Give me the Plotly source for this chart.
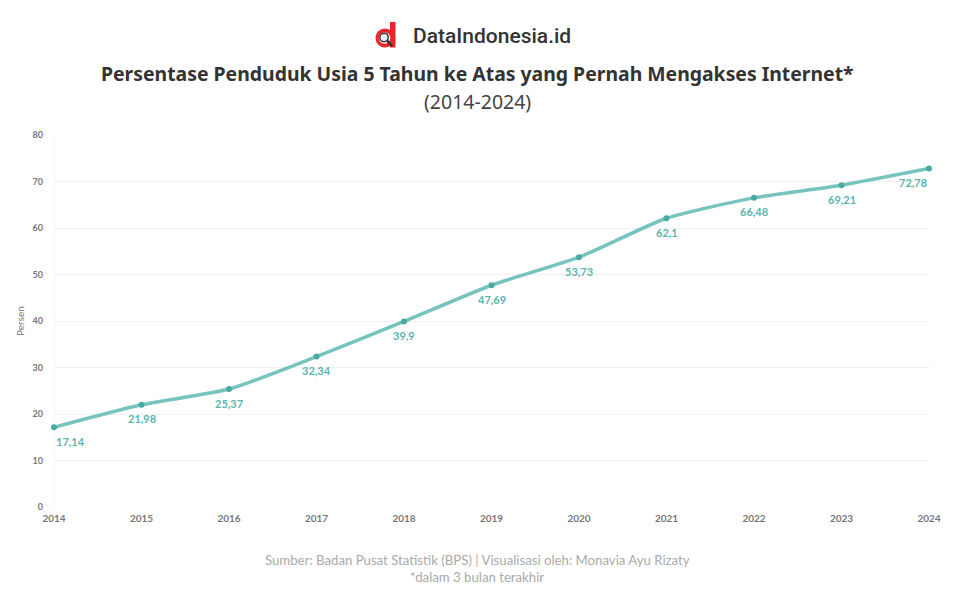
import plotly.graph_objects as go

years = [2014, 2015, 2016, 2017, 2018, 2019, 2020, 2021, 2022, 2023, 2024]
persen = [17.14, 21.98, 25.37, 32.34, 39.9, 47.69, 53.73, 62.1, 66.48, 69.21, 72.78]
y_ticks = [0, 10, 20, 30, 40, 50, 60, 70, 80]

labels = [f"{v:g}".replace(".", ",") for v in persen]
anchors = ["left"] + ["center"] * (len(years) - 2) + ["right"]

LINE = "#76c4bd"
MARK = "#4aa9a1"
FONT = "Lato, Noto Sans, sans-serif"
TFONT = "Noto Sans, Open Sans, sans-serif"

W, H = 954, 596
ML, MR, MT, MB = 54, 25, 135, 89
PW, PH = W - ML - MR, H - MT - MB


def px(x):
    return (x - ML) / PW


def py(y):
    return (H - MB - y) / PH


CX = px(W / 2)

fig = go.Figure()
fig.add_trace(go.Scatter(
    x=years, y=persen, mode="lines+markers",
    line=dict(color=LINE, width=3.5, shape="spline", smoothing=0.6),
    marker=dict(color=MARK, size=6),
    cliponaxis=False, hoverinfo="skip", showlegend=False,
))

label_ann = [
    dict(x=x, y=v, xref="x", yref="y", text=t, showarrow=False,
         xanchor=a, yanchor="middle", yshift=-14,
         font=dict(color="#5bb5ad", size=11, family=FONT, weight="bold"))
    for x, v, t, a in zip(years, persen, labels, anchors)
]


def circ(cx, cy, r, **kw):
    return dict(type="circle", xref="paper", yref="paper",
                x0=px(cx - r), x1=px(cx + r), y0=py(cy + r), y1=py(cy - r), **kw)


icon = [
    circ(385, 38, 9.5, fillcolor="#e8262c", line=dict(width=0)),
    dict(type="rect", xref="paper", yref="paper", x0=px(390), x1=px(395.5),
         y0=py(47.5), y1=py(22), fillcolor="#e8262c", line=dict(width=0)),
    circ(384.5, 38, 5.8, fillcolor="white", line=dict(width=0)),
    circ(384, 37.5, 4.2, fillcolor="#e8f0f6", line=dict(color="#333", width=1.5)),
    dict(type="line", xref="paper", yref="paper", x0=px(387), x1=px(392),
         y0=py(40.5), y1=py(46), line=dict(color="#333", width=2.5)),
]

fig.update_layout(
    width=W, height=H,
    paper_bgcolor="white", plot_bgcolor="white",
    margin=dict(l=ML, r=MR, t=MT, b=MB, autoexpand=False),
    font=dict(family=FONT, color="#666"),
    xaxis=dict(
        range=[2014, 2024], tickvals=years, ticktext=[str(y) for y in years],
        showgrid=False, zeroline=False, showline=False,
        tickfont=dict(size=10, color="#777", weight="bold"), ticks="", ticklabelstandoff=4,
    ),
    yaxis=dict(
        range=[0, 80], tickvals=y_ticks, ticktext=[str(t) for t in y_ticks],
        showgrid=True, gridcolor="#f0f0f0", gridwidth=1, zeroline=False, showline=False,
        tickfont=dict(size=9, color="#777", weight="bold"), ticks="", ticklabelstandoff=10,
        title=dict(text="Persen", font=dict(size=10, color="#777"), standoff=6),
    ),
    shapes=[
        dict(type="line", xref="x", yref="paper", x0=2014, x1=2014, y0=0, y1=1,
             line=dict(color="#e8e8e8", width=1), layer="below"),
    ] + icon,
    annotations=label_ann + [
        dict(text="<b>Persentase Penduduk Usia 5 Tahun ke Atas yang Pernah Mengakses Internet*</b>",
             xref="paper", yref="paper", x=CX, xanchor="center",
             y=py(74), yanchor="middle", showarrow=False,
             font=dict(size=19.4, color="#333", family=TFONT)),
        dict(text="(2014-2024)", xref="paper", yref="paper", x=CX, xanchor="center",
             y=py(101), yanchor="middle", showarrow=False,
             font=dict(size=19.5, color="#444", family=TFONT)),
        dict(text="DataIndonesia.id", xref="paper", yref="paper", x=px(411), xanchor="left",
             y=py(36), yanchor="middle", showarrow=False,
             font=dict(size=21, color="#333", family="Roboto, sans-serif", weight=500)),
        dict(text="Sumber: Badan Pusat Statistik (BPS) | Visualisasi oleh: Monavia Ayu Rizaty",
             xref="paper", yref="paper", x=CX, xanchor="center",
             y=py(560), yanchor="middle", showarrow=False,
             font=dict(size=13.2, color="#aaa", family=FONT)),
        dict(text="*dalam 3 bulan terakhir",
             xref="paper", yref="paper", x=CX, xanchor="center",
             y=py(577), yanchor="middle", showarrow=False,
             font=dict(size=13.2, color="#aaa", family=FONT)),
    ],
)

fig.write_html("out.html", config={"displayModeBar": False},
               post_script="document.body.style.margin='0';")
